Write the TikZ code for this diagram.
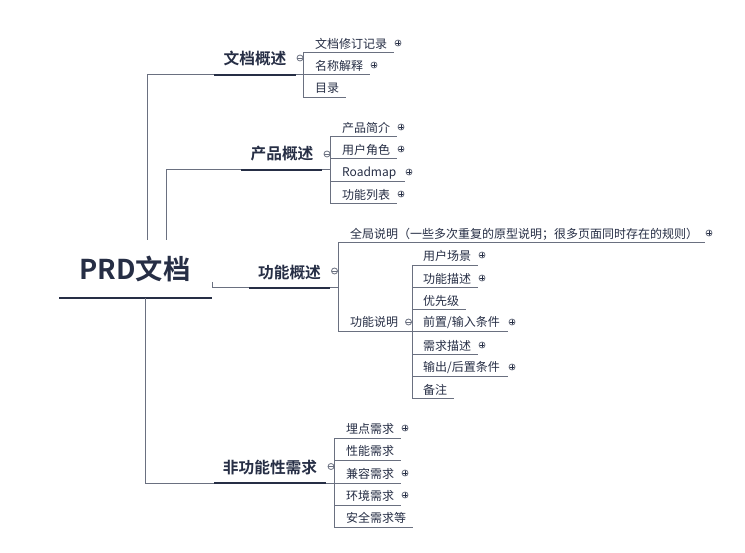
\documentclass[tikz,border=0pt]{standalone}
\usepackage{fontspec}
\setmainfont{Noto Sans CJK SC}[BoldFont={Noto Sans CJK SC Bold}]
\definecolor{ink}{HTML}{262E45}
\definecolor{wire}{HTML}{6A7080}
\tikzset{
  wirel/.style={draw=wire,line width=1pt},
  heavy/.style={draw=ink,line width=2pt},
  itemtext/.style={anchor=west,inner sep=0pt,text=ink,font=\fontsize{12}{12}\selectfont},
  topictext/.style={anchor=center,inner sep=0pt,text=ink,font=\fontsize{15.7}{16}\selectfont\bfseries},
  roottext/.style={anchor=center,inner sep=0pt,text=ink,font=\fontsize{27.3}{28}\selectfont\bfseries},
  openmark/.style={circle,draw=wire,line width=.8pt,inner sep=0pt,minimum size=6pt,
    path picture={\draw[ink,line width=.6pt] (path picture bounding box.west)--(path picture bounding box.east);
                  \draw[ink,line width=.6pt] (path picture bounding box.north)--(path picture bounding box.south);}},
  shutmark/.style={circle,draw=wire,line width=.8pt,inner sep=0pt,minimum size=6pt,
    path picture={\draw[wire,line width=.6pt] (path picture bounding box.west)--(path picture bounding box.east);}},
}
% name, trunk x, text x, text y, underline y, underline end x, text
\newcommand{\branchitem}[7]{%
  \node[itemtext] (#1) at (#3,{#4+1}) {#7};
  \coordinate (#1-l) at (#2,#5);
  \coordinate (#1-r) at (#6,#5);
  \draw[wirel] (#1-l) -- (#1-r);
}
\begin{document}
\begin{tikzpicture}[x=1pt,y=-1pt]
\useasboundingbox (0,0) rectangle (745,553);
\fill[white] (0,0) rectangle (745,553);

% root
\node[roottext] (root) at (135,268.5) {PRD文档};
\coordinate (rootl) at (59,298);
\coordinate (rootr) at (212,298);
\draw[heavy] (rootl) -- (rootr);

% ---- topic 1
\node[topictext] (t1) at (255,58.5) {文档概述};
\coordinate (t1a) at (147,240);
\coordinate (t1e) at (147,75);
\coordinate (t1l) at (214,75);
\coordinate (t1r) at (296,75);
\coordinate (t1j) at (303,75);
\draw[wirel] (t1a) -- (t1e) -- (t1l);
\draw[heavy] (t1l) -- (t1r);
\draw[wirel] (t1r) -- (t1j);
\node[shutmark] (m1) at (300,58) {};
\branchitem{a1}{303}{315}{43}{53}{394}{文档修订记录}
\branchitem{a2}{303}{315}{65}{75}{370}{名称解释}
\branchitem{a3}{303}{315}{87}{98}{346}{目录}
\draw[wirel] (a1-l) -- (a3-l);
\node[openmark] (a1m) at (398,43) {};
\node[openmark] (a2m) at (374,65) {};

% ---- topic 2
\node[topictext] (t2) at (282,153.5) {产品概述};
\coordinate (t2a) at (166,240);
\coordinate (t2e) at (166,170);
\coordinate (t2l) at (241,170);
\coordinate (t2r) at (322,170);
\coordinate (t2j) at (330,170);
\draw[wirel] (t2a) -- (t2e) -- (t2l);
\draw[heavy] (t2l) -- (t2r);
\draw[wirel] (t2r) -- (t2j);
\node[shutmark] (m2) at (327,154) {};
\branchitem{b1}{330}{342}{127}{137}{397}{产品简介}
\branchitem{b2}{330}{342}{149}{159}{397}{用户角色}
\branchitem{b3}{330}{342}{172}{182}{405}{Roadmap}
\branchitem{b4}{330}{342}{194}{204}{397}{功能列表}
\draw[wirel] (b1-l) -- (b4-l);
\node[openmark] (b1m) at (401,127) {};
\node[openmark] (b2m) at (401,149) {};
\node[openmark] (b3m) at (409,172) {};
\node[openmark] (b4m) at (401,194) {};

% ---- topic 3
\node[topictext] (t3) at (289.5,272.5) {功能概述};
\coordinate (t3a) at (212.5,282);
\coordinate (t3e) at (212.5,288);
\coordinate (t3l) at (249,288);
\coordinate (t3r) at (330,288);
\coordinate (t3j) at (338,288);
\draw[wirel] (t3a) -- (t3e) -- (t3l);
\draw[heavy] (t3l) -- (t3r);
\draw[wirel] (t3r) -- (t3j);
\node[shutmark] (m3) at (334.5,271) {};
\branchitem{c1}{338}{350}{233}{243}{705}{全局说明（一些多次重复的原型说明；很多页面同时存在的规则）}
\branchitem{c2}{338}{350}{321}{332}{417}{功能说明}
\draw[wirel] (c1-l) -- (c2-l);
\node[openmark] (c1m) at (709,233) {};
\node[shutmark] (c2s) at (408.5,322) {};
\branchitem{d1}{412}{423}{255}{266}{478}{用户场景}
\branchitem{d2}{412}{423}{278}{288}{478}{功能描述}
\branchitem{d3}{412}{423}{300}{310}{466}{优先级}
\branchitem{d4}{412}{423}{322}{332}{508}{前置/输入条件}
\branchitem{d5}{412}{423}{345}{355}{478}{需求描述}
\branchitem{d6}{412}{423}{367}{377}{508}{输出/后置条件}
\branchitem{d7}{412}{423}{389}{399}{454}{备注}
\draw[wirel] (d1-l) -- (d7-l);
\node[openmark] (d1m) at (482,255) {};
\node[openmark] (d2m) at (482,278) {};
\node[openmark] (d4m) at (512,322) {};
\node[openmark] (d5m) at (482,345) {};
\node[openmark] (d6m) at (512,367) {};

% ---- topic 4
\coordinate (t4a) at (145,298);
\coordinate (t4e) at (145,483);
\coordinate (t4l) at (214,483);
\coordinate (t4r) at (326,483);
\coordinate (t4j) at (334,483);
\node[topictext] (t4) at (270,467.5) {非功能性需求};
\draw[wirel] (t4a) -- (t4e) -- (t4l);
\draw[heavy] (t4l) -- (t4r);
\draw[wirel] (t4r) -- (t4j);
\node[shutmark] (m4) at (331,466.5) {};
\branchitem{e1}{334}{346}{428}{439}{401}{埋点需求}
\branchitem{e2}{334}{346}{450}{461}{401}{性能需求}
\branchitem{e3}{334}{346}{473}{483}{401}{兼容需求}
\branchitem{e4}{334}{346}{495}{505}{401}{环境需求}
\branchitem{e5}{334}{346}{517}{527}{413}{安全需求等}
\draw[wirel] (e1-l) -- (e5-l);
\node[openmark] (e1m) at (405,428) {};
\node[openmark] (e3m) at (405,473) {};
\node[openmark] (e4m) at (405,495) {};
\end{tikzpicture}
\end{document}
